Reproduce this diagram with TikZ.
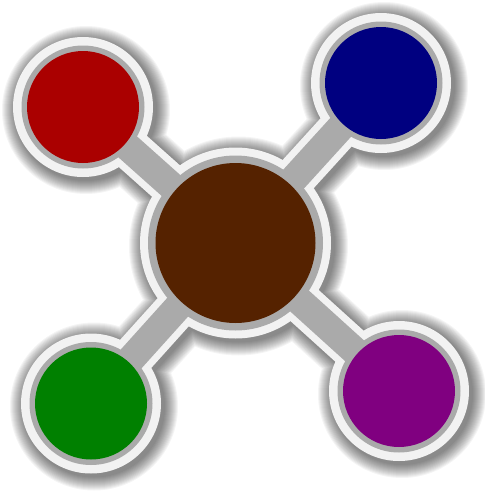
\documentclass[tikz,border=0pt]{standalone}
\definecolor{ringwhite}{HTML}{F2F2F2}
\definecolor{ringgray}{HTML}{AAAAAA}
\definecolor{hubbrown}{HTML}{552200}
\definecolor{spotred}{HTML}{AA0000}
\definecolor{spotblue}{HTML}{000080}
\definecolor{spotgreen}{HTML}{008000}
\definecolor{spotpurple}{HTML}{800080}
\pgfdeclarelayer{shadow}
\pgfdeclarelayer{halo}
\pgfdeclarelayer{ring}
\pgfsetlayers{shadow,halo,ring,main}
\begin{document}
\begin{tikzpicture}[x=1pt, y=-1pt,
  spot/.style={circle, inner sep=0pt, minimum size=112pt},
  hub/.style={circle, inner sep=0pt, minimum size=160pt},
  halo/.style={line width=42pt, ringwhite},
  bar/.style={line width=28pt, ringgray}]

  \useasboundingbox (0,0) rectangle (485,491);

  % Nodes
  \node[hub, fill=hubbrown] (hub) at (235.5,243) {};
  \node[spot, fill=spotred] (red) at (83,107) {};
  \node[spot, fill=spotblue] (blue) at (381,83) {};
  \node[spot, fill=spotgreen] (green) at (91,403.5) {};
  \node[spot, fill=spotpurple] (purple) at (399,391) {};

  % Soft shadow
  \begin{pgfonlayer}{shadow}
    \foreach \k in {1,...,14}{
      \begin{scope}[transparency group, opacity=0.045]
        \foreach \n/\r in {hub/95.5, red/70, blue/70, green/70, purple/70}
          \fill[black] ([shift={(3,3)}]\n.center) circle[radius=\r+\k];
        \foreach \n in {red, blue, green, purple}
          \draw[black, line width={(42+2*\k)*1pt}] ([shift={(3,3)}]hub.center) -- ([shift={(3,3)}]\n.center);
      \end{scope}}
  \end{pgfonlayer}

  % White halos
  \begin{pgfonlayer}{halo}
    \foreach \n/\r in {hub/95.5, red/70, blue/70, green/70, purple/70}
      \fill[ringwhite] (\n.center) circle[radius=\r];
    \foreach \n in {red, blue, green, purple}
      \draw[halo] (hub.center) -- (\n.center);
  \end{pgfonlayer}

  % Gray rings and bars
  \begin{pgfonlayer}{ring}
    \foreach \n/\r in {hub/87.5, red/61.5, blue/61.5, green/61.5, purple/61.5}
      \fill[ringgray] (\n.center) circle[radius=\r];
    \foreach \n in {red, blue, green, purple}
      \draw[bar] (hub.center) -- (\n.center);
  \end{pgfonlayer}

\end{tikzpicture}
\end{document}
